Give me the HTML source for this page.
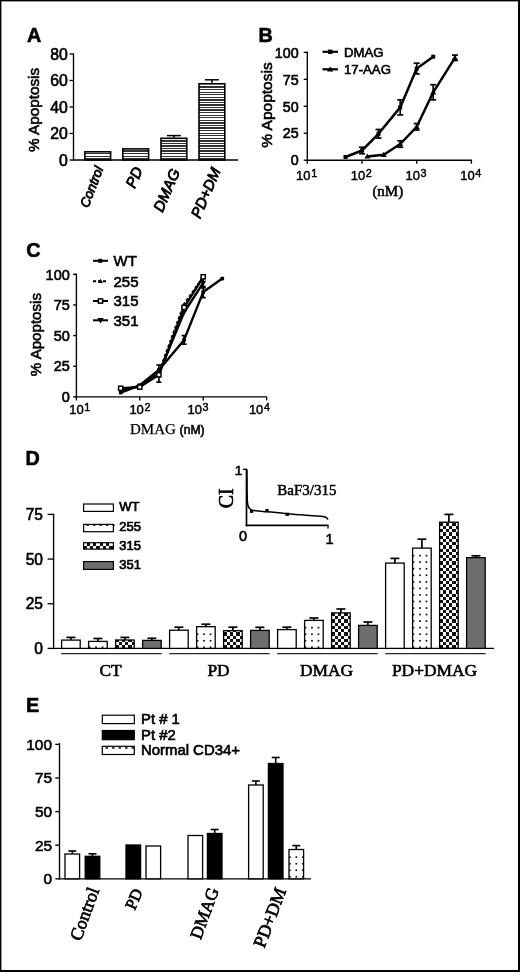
<!DOCTYPE html>
<html lang="en"><head><meta charset="utf-8"><title>Figure</title>
<style>
html,body{margin:0;padding:0;background:#fff;}
body{width:520px;height:972px;overflow:hidden;}
svg{display:block;}
.ss{font-family:"Liberation Sans",Arial,Helvetica,sans-serif;fill:#000;}
.sr{font-family:"Liberation Serif","Times New Roman",Times,serif;fill:#000;}
</style></head><body>
<svg width="520" height="972" viewBox="0 0 520 972">
<rect x="0" y="0" width="520" height="972" fill="#fff"/>

<rect x="0" y="0" width="520" height="1.4" fill="#000"/>
<rect x="0" y="0" width="1.4" height="972" fill="#000"/>
<rect x="518" y="0" width="2" height="972" fill="#000"/>
<rect x="0" y="970" width="520" height="2" fill="#000"/>
<text class="ss" x="27" y="41.6" font-size="19.8" font-weight="bold" stroke="#000" stroke-width="0.6">A</text>
<text class="ss" x="258.5" y="41.6" font-size="19.8" font-weight="bold" stroke="#000" stroke-width="0.6">B</text>
<text class="ss" x="26.3" y="256.7" font-size="19.8" font-weight="bold" stroke="#000" stroke-width="0.6">C</text>
<text class="ss" x="25.5" y="465.4" font-size="19.8" font-weight="bold" stroke="#000" stroke-width="0.6">D</text>
<text class="ss" x="26" y="712.4" font-size="19.8" font-weight="bold" stroke="#000" stroke-width="0.6">E</text>
<line x1="73.5" y1="53.4" x2="73.5" y2="160.65" stroke="#000" stroke-width="1.35"/>
<line x1="72.85" y1="160.0" x2="238" y2="160.0" stroke="#000" stroke-width="1.35"/>
<line x1="69.5" y1="160.0" x2="73.5" y2="160.0" stroke="#000" stroke-width="1.35"/>
<text class="ss" x="67.8" y="165.6" font-size="15.8" text-anchor="end" stroke="#000" stroke-width="0.6">0</text>
<line x1="69.5" y1="133.5" x2="73.5" y2="133.5" stroke="#000" stroke-width="1.35"/>
<text class="ss" x="67.8" y="139.1" font-size="15.8" text-anchor="end" stroke="#000" stroke-width="0.6">20</text>
<line x1="69.5" y1="107.0" x2="73.5" y2="107.0" stroke="#000" stroke-width="1.35"/>
<text class="ss" x="67.8" y="112.6" font-size="15.8" text-anchor="end" stroke="#000" stroke-width="0.6">40</text>
<line x1="69.5" y1="80.5" x2="73.5" y2="80.5" stroke="#000" stroke-width="1.35"/>
<text class="ss" x="67.8" y="86.1" font-size="15.8" text-anchor="end" stroke="#000" stroke-width="0.6">60</text>
<line x1="69.5" y1="54.0" x2="73.5" y2="54.0" stroke="#000" stroke-width="1.35"/>
<text class="ss" x="67.8" y="59.6" font-size="15.8" text-anchor="end" stroke="#000" stroke-width="0.6">80</text>
<text class="ss" x="38.6" y="110" font-size="15.3" text-anchor="middle" stroke="#000" stroke-width="0.6" transform="rotate(-90 38.6 110)">% Apoptosis</text>
<g shape-rendering="crispEdges" fill="#333">
<rect x="84.8" y="158.10" width="25.8" height="1.35"/>
<rect x="84.8" y="155.54" width="25.8" height="1.35"/>
<rect x="84.8" y="152.98" width="25.8" height="1.35"/>
</g>
<rect x="84.80" y="151.80" width="25.80" height="8.20" fill="none" stroke="#000" stroke-width="1.6"/>
<g shape-rendering="crispEdges" fill="#333">
<rect x="122.8" y="158.10" width="25.8" height="1.35"/>
<rect x="122.8" y="155.54" width="25.8" height="1.35"/>
<rect x="122.8" y="152.98" width="25.8" height="1.35"/>
<rect x="122.8" y="150.42" width="25.8" height="1.35"/>
</g>
<rect x="122.80" y="148.90" width="25.80" height="11.10" fill="none" stroke="#000" stroke-width="1.6"/>
<line x1="173.9" y1="135.6" x2="173.9" y2="138.3" stroke="#000" stroke-width="1.5"/>
<line x1="166.9" y1="135.6" x2="180.9" y2="135.6" stroke="#000" stroke-width="1.5"/>
<g shape-rendering="crispEdges" fill="#333">
<rect x="161.0" y="158.10" width="25.8" height="1.35"/>
<rect x="161.0" y="155.54" width="25.8" height="1.35"/>
<rect x="161.0" y="152.98" width="25.8" height="1.35"/>
<rect x="161.0" y="150.42" width="25.8" height="1.35"/>
<rect x="161.0" y="147.86" width="25.8" height="1.35"/>
<rect x="161.0" y="145.30" width="25.8" height="1.35"/>
<rect x="161.0" y="142.74" width="25.8" height="1.35"/>
<rect x="161.0" y="140.18" width="25.8" height="1.35"/>
</g>
<rect x="161.00" y="138.30" width="25.80" height="21.70" fill="none" stroke="#000" stroke-width="1.6"/>
<line x1="211.9" y1="79.8" x2="211.9" y2="83.8" stroke="#000" stroke-width="1.5"/>
<line x1="204.9" y1="79.8" x2="218.9" y2="79.8" stroke="#000" stroke-width="1.5"/>
<g shape-rendering="crispEdges" fill="#333">
<rect x="199.0" y="158.10" width="25.8" height="1.35"/>
<rect x="199.0" y="155.54" width="25.8" height="1.35"/>
<rect x="199.0" y="152.98" width="25.8" height="1.35"/>
<rect x="199.0" y="150.42" width="25.8" height="1.35"/>
<rect x="199.0" y="147.86" width="25.8" height="1.35"/>
<rect x="199.0" y="145.30" width="25.8" height="1.35"/>
<rect x="199.0" y="142.74" width="25.8" height="1.35"/>
<rect x="199.0" y="140.18" width="25.8" height="1.35"/>
<rect x="199.0" y="137.62" width="25.8" height="1.35"/>
<rect x="199.0" y="135.06" width="25.8" height="1.35"/>
<rect x="199.0" y="132.50" width="25.8" height="1.35"/>
<rect x="199.0" y="129.94" width="25.8" height="1.35"/>
<rect x="199.0" y="127.38" width="25.8" height="1.35"/>
<rect x="199.0" y="124.82" width="25.8" height="1.35"/>
<rect x="199.0" y="122.26" width="25.8" height="1.35"/>
<rect x="199.0" y="119.70" width="25.8" height="1.35"/>
<rect x="199.0" y="117.14" width="25.8" height="1.35"/>
<rect x="199.0" y="114.58" width="25.8" height="1.35"/>
<rect x="199.0" y="112.02" width="25.8" height="1.35"/>
<rect x="199.0" y="109.46" width="25.8" height="1.35"/>
<rect x="199.0" y="106.90" width="25.8" height="1.35"/>
<rect x="199.0" y="104.34" width="25.8" height="1.35"/>
<rect x="199.0" y="101.78" width="25.8" height="1.35"/>
<rect x="199.0" y="99.22" width="25.8" height="1.35"/>
<rect x="199.0" y="96.66" width="25.8" height="1.35"/>
<rect x="199.0" y="94.10" width="25.8" height="1.35"/>
<rect x="199.0" y="91.54" width="25.8" height="1.35"/>
<rect x="199.0" y="88.98" width="25.8" height="1.35"/>
<rect x="199.0" y="86.42" width="25.8" height="1.35"/>
</g>
<rect x="199.00" y="83.80" width="25.80" height="76.20" fill="none" stroke="#000" stroke-width="1.6"/>
<text class="ss" x="103.5" y="168.5" font-size="13.3" text-anchor="end" font-style="italic" stroke="#000" stroke-width="0.85" transform="rotate(-69 103.5 168.5)">Control</text>
<text class="ss" x="143" y="169.8" font-size="15" text-anchor="end" font-style="italic" stroke="#000" stroke-width="0.85" transform="rotate(-67 143 169.8)">PD</text>
<text class="ss" x="180.2" y="171.5" font-size="15" text-anchor="end" font-style="italic" stroke="#000" stroke-width="0.85" transform="rotate(-67 180.2 171.5)">DMAG</text>
<text class="ss" x="220.8" y="170.5" font-size="15" text-anchor="end" font-style="italic" stroke="#000" stroke-width="0.85" transform="rotate(-67 220.8 170.5)">PD+DM</text>
<line x1="307.3" y1="51.4" x2="307.3" y2="160.85" stroke="#000" stroke-width="1.35"/>
<line x1="306.65000000000003" y1="160.2" x2="472" y2="160.2" stroke="#000" stroke-width="1.35"/>
<line x1="303.7" y1="160.2" x2="307.3" y2="160.2" stroke="#000" stroke-width="1.35"/>
<text class="ss" x="298.6" y="165.39999999999998" font-size="14.3" text-anchor="end" stroke="#000" stroke-width="0.6">0</text>
<line x1="303.7" y1="133.25" x2="307.3" y2="133.25" stroke="#000" stroke-width="1.35"/>
<text class="ss" x="298.6" y="138.45" font-size="14.3" text-anchor="end" stroke="#000" stroke-width="0.6">25</text>
<line x1="303.7" y1="106.29999999999998" x2="307.3" y2="106.29999999999998" stroke="#000" stroke-width="1.35"/>
<text class="ss" x="298.6" y="111.49999999999999" font-size="14.3" text-anchor="end" stroke="#000" stroke-width="0.6">50</text>
<line x1="303.7" y1="79.34999999999998" x2="307.3" y2="79.34999999999998" stroke="#000" stroke-width="1.35"/>
<text class="ss" x="298.6" y="84.54999999999998" font-size="14.3" text-anchor="end" stroke="#000" stroke-width="0.6">75</text>
<line x1="303.7" y1="52.39999999999998" x2="307.3" y2="52.39999999999998" stroke="#000" stroke-width="1.35"/>
<text class="ss" x="298.6" y="57.59999999999998" font-size="14.3" text-anchor="end" stroke="#000" stroke-width="0.6">100</text>
<text class="ss" x="271.7" y="105" font-size="15.5" text-anchor="middle" stroke="#000" stroke-width="0.6" transform="rotate(-90 271.7 105)">% Apoptosis</text>
<line x1="307.3" y1="160.2" x2="307.3" y2="163.7" stroke="#000" stroke-width="1.35"/>
<text class="ss" x="296.1" y="179.8" font-size="13" stroke="#000" stroke-width="0.45">10<tspan font-size="10.8" dy="-2.6" dx="0.6">1</tspan></text>
<line x1="362.0" y1="160.2" x2="362.0" y2="163.7" stroke="#000" stroke-width="1.35"/>
<text class="ss" x="350.8" y="179.8" font-size="13" stroke="#000" stroke-width="0.45">10<tspan font-size="10.8" dy="-2.6" dx="0.6">2</tspan></text>
<line x1="416.70000000000005" y1="160.2" x2="416.70000000000005" y2="163.7" stroke="#000" stroke-width="1.35"/>
<text class="ss" x="405.5" y="179.8" font-size="13" stroke="#000" stroke-width="0.45">10<tspan font-size="10.8" dy="-2.6" dx="0.6">3</tspan></text>
<line x1="471.40000000000003" y1="160.2" x2="471.40000000000003" y2="163.7" stroke="#000" stroke-width="1.35"/>
<text class="ss" x="460.2" y="179.8" font-size="13" stroke="#000" stroke-width="0.45">10<tspan font-size="10.8" dy="-2.6" dx="0.6">4</tspan></text>
<text class="sr" x="387.8" y="196" font-size="15" text-anchor="middle" stroke="#000" stroke-width="0.55">(nM)</text>
<polyline points="345.5,157.0 362.0,150.5 378.5,133.8 400.2,107.4 416.7,68.6 433.2,56.7" fill="none" stroke="#000" stroke-width="2.5" stroke-linejoin="round"/>
<polyline points="367.3,156.4 383.8,154.8 400.2,144.0 416.7,126.8 433.2,92.3 454.9,57.8" fill="none" stroke="#000" stroke-width="2.5" stroke-linejoin="round"/>
<rect x="343.5" y="155.0" width="4" height="4" fill="#000"/>
<line x1="362.0" y1="147.26399999999998" x2="362.0" y2="153.732" stroke="#000" stroke-width="1.7"/>
<line x1="359.0" y1="147.26399999999998" x2="365.0" y2="147.26399999999998" stroke="#000" stroke-width="1.7"/>
<line x1="359.0" y1="153.732" x2="365.0" y2="153.732" stroke="#000" stroke-width="1.7"/>
<rect x="360.0" y="148.5" width="4" height="4" fill="#000"/>
<line x1="378.46634076281975" y1="129.47699999999998" x2="378.46634076281975" y2="138.101" stroke="#000" stroke-width="1.7"/>
<line x1="375.46634076281975" y1="129.47699999999998" x2="381.46634076281975" y2="129.47699999999998" stroke="#000" stroke-width="1.7"/>
<line x1="375.46634076281975" y1="138.101" x2="381.46634076281975" y2="138.101" stroke="#000" stroke-width="1.7"/>
<rect x="376.5" y="131.8" width="4" height="4" fill="#000"/>
<line x1="400.23365923718023" y1="99.832" x2="400.23365923718023" y2="114.92399999999998" stroke="#000" stroke-width="1.7"/>
<line x1="397.23365923718023" y1="99.832" x2="403.23365923718023" y2="99.832" stroke="#000" stroke-width="1.7"/>
<line x1="397.23365923718023" y1="114.92399999999998" x2="403.23365923718023" y2="114.92399999999998" stroke="#000" stroke-width="1.7"/>
<rect x="398.2" y="105.4" width="4" height="4" fill="#000"/>
<line x1="416.70000000000005" y1="63.17999999999998" x2="416.70000000000005" y2="73.95999999999998" stroke="#000" stroke-width="1.7"/>
<line x1="413.70000000000005" y1="63.17999999999998" x2="419.70000000000005" y2="63.17999999999998" stroke="#000" stroke-width="1.7"/>
<line x1="413.70000000000005" y1="73.95999999999998" x2="419.70000000000005" y2="73.95999999999998" stroke="#000" stroke-width="1.7"/>
<rect x="414.7" y="66.6" width="4" height="4" fill="#000"/>
<rect x="431.2" y="54.7" width="4" height="4" fill="#000"/>
<polygon points="364.3,158.6 370.3,158.6 367.3,153.4" fill="#000"/>
<polygon points="380.8,157.0 386.8,157.0 383.8,151.8" fill="#000"/>
<line x1="400.23365923718023" y1="140.796" x2="400.23365923718023" y2="147.26399999999998" stroke="#000" stroke-width="1.7"/>
<line x1="397.23365923718023" y1="140.796" x2="403.23365923718023" y2="140.796" stroke="#000" stroke-width="1.7"/>
<line x1="397.23365923718023" y1="147.26399999999998" x2="403.23365923718023" y2="147.26399999999998" stroke="#000" stroke-width="1.7"/>
<polygon points="397.2,146.2 403.2,146.2 400.2,141.0" fill="#000"/>
<line x1="416.70000000000005" y1="123.54799999999999" x2="416.70000000000005" y2="130.016" stroke="#000" stroke-width="1.7"/>
<line x1="413.70000000000005" y1="123.54799999999999" x2="419.70000000000005" y2="123.54799999999999" stroke="#000" stroke-width="1.7"/>
<line x1="413.70000000000005" y1="130.016" x2="419.70000000000005" y2="130.016" stroke="#000" stroke-width="1.7"/>
<polygon points="413.7,129.0 419.7,129.0 416.7,123.8" fill="#000"/>
<line x1="433.1663407628198" y1="84.73999999999998" x2="433.1663407628198" y2="99.832" stroke="#000" stroke-width="1.7"/>
<line x1="430.1663407628198" y1="84.73999999999998" x2="436.1663407628198" y2="84.73999999999998" stroke="#000" stroke-width="1.7"/>
<line x1="430.1663407628198" y1="99.832" x2="436.1663407628198" y2="99.832" stroke="#000" stroke-width="1.7"/>
<polygon points="430.2,94.5 436.2,94.5 433.2,89.3" fill="#000"/>
<line x1="454.9336592371802" y1="55.094999999999985" x2="454.9336592371802" y2="60.484999999999985" stroke="#000" stroke-width="1.7"/>
<line x1="451.9336592371802" y1="55.094999999999985" x2="457.9336592371802" y2="55.094999999999985" stroke="#000" stroke-width="1.7"/>
<line x1="451.9336592371802" y1="60.484999999999985" x2="457.9336592371802" y2="60.484999999999985" stroke="#000" stroke-width="1.7"/>
<polygon points="451.9,60.0 457.9,60.0 454.9,54.8" fill="#000"/>
<line x1="322.5" y1="51.8" x2="338" y2="51.8" stroke="#000" stroke-width="2.2"/>
<rect x="328" y="49.6" width="4.4" height="4.4" fill="#000"/>
<text class="ss" x="344" y="56.9" font-size="13.2" stroke="#000" stroke-width="0.6">DMAG</text>
<line x1="322.5" y1="69.3" x2="338" y2="69.3" stroke="#000" stroke-width="2.2"/>
<polygon points="327,71.6 333.4,71.6 330.2,66.4" fill="#000"/>
<text class="ss" x="344" y="74.2" font-size="13.2" stroke="#000" stroke-width="0.6">17-AAG</text>
<line x1="76.4" y1="273.6" x2="76.4" y2="397.54999999999995" stroke="#000" stroke-width="1.35"/>
<line x1="75.75" y1="396.9" x2="267" y2="396.9" stroke="#000" stroke-width="1.35"/>
<line x1="73.10000000000001" y1="396.9" x2="76.4" y2="396.9" stroke="#000" stroke-width="1.35"/>
<text class="ss" x="69.8" y="402.09999999999997" font-size="14.5" text-anchor="end" stroke="#000" stroke-width="0.6">0</text>
<line x1="73.10000000000001" y1="366.25" x2="76.4" y2="366.25" stroke="#000" stroke-width="1.35"/>
<text class="ss" x="69.8" y="371.45" font-size="14.5" text-anchor="end" stroke="#000" stroke-width="0.6">25</text>
<line x1="73.10000000000001" y1="335.59999999999997" x2="76.4" y2="335.59999999999997" stroke="#000" stroke-width="1.35"/>
<text class="ss" x="69.8" y="340.79999999999995" font-size="14.5" text-anchor="end" stroke="#000" stroke-width="0.6">50</text>
<line x1="73.10000000000001" y1="304.95" x2="76.4" y2="304.95" stroke="#000" stroke-width="1.35"/>
<text class="ss" x="69.8" y="310.15" font-size="14.5" text-anchor="end" stroke="#000" stroke-width="0.6">75</text>
<line x1="73.10000000000001" y1="274.29999999999995" x2="76.4" y2="274.29999999999995" stroke="#000" stroke-width="1.35"/>
<text class="ss" x="69.8" y="279.49999999999994" font-size="14.5" text-anchor="end" stroke="#000" stroke-width="0.6">100</text>
<text class="ss" x="40.8" y="334.6" font-size="15.1" text-anchor="middle" stroke="#000" stroke-width="0.6" transform="rotate(-90 40.8 334.6)">% Apoptosis</text>
<line x1="76.4" y1="396.9" x2="76.4" y2="400.4" stroke="#000" stroke-width="1.35"/>
<text class="ss" x="69.3" y="414" font-size="13" stroke="#000" stroke-width="0.45">10<tspan font-size="10.8" dy="-2.6" dx="0.6">1</tspan></text>
<line x1="139.8" y1="396.9" x2="139.8" y2="400.4" stroke="#000" stroke-width="1.35"/>
<text class="ss" x="129.4" y="414" font-size="13" stroke="#000" stroke-width="0.45">10<tspan font-size="10.8" dy="-2.6" dx="0.6">2</tspan></text>
<line x1="203.2" y1="396.9" x2="203.2" y2="400.4" stroke="#000" stroke-width="1.35"/>
<text class="ss" x="187.5" y="414" font-size="13" stroke="#000" stroke-width="0.45">10<tspan font-size="10.8" dy="-2.6" dx="0.6">3</tspan></text>
<line x1="266.6" y1="396.9" x2="266.6" y2="400.4" stroke="#000" stroke-width="1.35"/>
<text class="ss" x="248.9" y="414" font-size="13" stroke="#000" stroke-width="0.45">10<tspan font-size="10.8" dy="-2.6" dx="0.6">4</tspan></text>
<text class="sr" x="130" y="433.8" font-size="15" stroke="#000" stroke-width="0.25">DMAG <tspan class="ss" font-size="12.2" stroke-width="0.6">(nM)</tspan></text>
<polyline points="120.7,389.5 139.8,386.5 158.9,373.0 184.1,304.3 203.2,277.4" fill="none" stroke="#000" stroke-width="2.4" stroke-linejoin="round" stroke-dasharray="3 2"/>
<polyline points="120.7,388.3 139.8,387.1 158.9,374.8 184.1,307.4 203.2,276.8" fill="none" stroke="#000" stroke-width="2.4" stroke-linejoin="round"/>
<polyline points="120.7,390.8 139.8,385.9 158.9,373.6 184.1,312.3 203.2,282.9" fill="none" stroke="#000" stroke-width="2.4" stroke-linejoin="round"/>
<polyline points="120.7,392.6 139.8,385.3 158.9,369.9 184.1,339.9 203.2,292.1 222.3,278.6" fill="none" stroke="#000" stroke-width="2.4" stroke-linejoin="round"/>
<rect x="118.9" y="390.8" width="3.6" height="3.6" fill="#000"/>
<rect x="138.0" y="383.5" width="3.6" height="3.6" fill="#000"/>
<rect x="157.1" y="368.1" width="3.6" height="3.6" fill="#000"/>
<line x1="184.1146982749036" y1="335.59999999999997" x2="184.1146982749036" y2="344.18199999999996" stroke="#000" stroke-width="1.7"/>
<line x1="181.6146982749036" y1="335.59999999999997" x2="186.6146982749036" y2="335.59999999999997" stroke="#000" stroke-width="1.7"/>
<line x1="181.6146982749036" y1="344.18199999999996" x2="186.6146982749036" y2="344.18199999999996" stroke="#000" stroke-width="1.7"/>
<rect x="182.3" y="338.1" width="3.6" height="3.6" fill="#000"/>
<line x1="203.2" y1="286.55999999999995" x2="203.2" y2="297.594" stroke="#000" stroke-width="1.7"/>
<line x1="200.7" y1="286.55999999999995" x2="205.7" y2="286.55999999999995" stroke="#000" stroke-width="1.7"/>
<line x1="200.7" y1="297.594" x2="205.7" y2="297.594" stroke="#000" stroke-width="1.7"/>
<rect x="201.4" y="290.3" width="3.6" height="3.6" fill="#000"/>
<rect x="220.5" y="276.8" width="3.6" height="3.6" fill="#000"/>
<polygon points="117.7,388.6 123.7,388.6 120.7,393.8" fill="#000"/>
<polygon points="136.8,383.7 142.8,383.7 139.8,388.9" fill="#000"/>
<line x1="158.8853017250964" y1="365.024" x2="158.8853017250964" y2="382.188" stroke="#000" stroke-width="1.7"/>
<line x1="156.3853017250964" y1="365.024" x2="161.3853017250964" y2="365.024" stroke="#000" stroke-width="1.7"/>
<line x1="156.3853017250964" y1="382.188" x2="161.3853017250964" y2="382.188" stroke="#000" stroke-width="1.7"/>
<polygon points="155.9,371.4 161.9,371.4 158.9,376.6" fill="#000"/>
<polygon points="181.1,310.1 187.1,310.1 184.1,315.3" fill="#000"/>
<line x1="203.2" y1="277.97799999999995" x2="203.2" y2="287.78599999999994" stroke="#000" stroke-width="1.7"/>
<line x1="200.7" y1="277.97799999999995" x2="205.7" y2="277.97799999999995" stroke="#000" stroke-width="1.7"/>
<line x1="200.7" y1="287.78599999999994" x2="205.7" y2="287.78599999999994" stroke="#000" stroke-width="1.7"/>
<polygon points="200.2,280.7 206.2,280.7 203.2,285.9" fill="#000"/>
<rect x="118.6" y="386.2" width="4.2" height="4.2" fill="#fff" stroke="#000" stroke-width="1.5"/>
<rect x="137.7" y="385.0" width="4.2" height="4.2" fill="#fff" stroke="#000" stroke-width="1.5"/>
<rect x="156.8" y="372.7" width="4.2" height="4.2" fill="#fff" stroke="#000" stroke-width="1.5"/>
<rect x="182.0" y="305.3" width="4.2" height="4.2" fill="#fff" stroke="#000" stroke-width="1.5"/>
<rect x="201.1" y="274.7" width="4.2" height="4.2" fill="#fff" stroke="#000" stroke-width="1.5"/>
<line x1="93" y1="260.8" x2="108" y2="260.8" stroke="#000" stroke-width="2"/>
<rect x="98.3" y="258.8" width="4" height="4" fill="#000"/>
<line x1="93" y1="281.2" x2="108" y2="281.2" stroke="#000" stroke-width="2" stroke-dasharray="3 2"/>
<polygon points="98,283.0 103,283.0 100.5,278.8" fill="#000"/>
<line x1="93" y1="301" x2="108" y2="301" stroke="#000" stroke-width="2"/>
<rect x="98.4" y="298.9" width="4.2" height="4.2" fill="#fff" stroke="#000" stroke-width="1.5"/>
<line x1="93" y1="320.3" x2="108" y2="320.3" stroke="#000" stroke-width="2"/>
<polygon points="97.3,318.1 103.7,318.1 100.5,323.5" fill="#000"/>
<text class="ss" x="113.5" y="266.2" font-size="15" stroke="#000" stroke-width="0.6">WT</text>
<text class="ss" x="113.5" y="286.59999999999997" font-size="15" stroke="#000" stroke-width="0.6">255</text>
<text class="ss" x="113.5" y="306.4" font-size="15" stroke="#000" stroke-width="0.6">315</text>
<text class="ss" x="113.5" y="325.7" font-size="15" stroke="#000" stroke-width="0.6">351</text>
<line x1="53.6" y1="513.8" x2="53.6" y2="649.05" stroke="#000" stroke-width="1.35"/>
<line x1="52.95" y1="648.4" x2="494" y2="648.4" stroke="#000" stroke-width="1.35"/>
<line x1="47.6" y1="648.4" x2="53.6" y2="648.4" stroke="#000" stroke-width="1.35"/>
<text class="ss" x="43" y="654.0" font-size="15.6" text-anchor="end" stroke="#000" stroke-width="0.6">0</text>
<line x1="47.6" y1="603.73" x2="53.6" y2="603.73" stroke="#000" stroke-width="1.35"/>
<text class="ss" x="43" y="609.33" font-size="15.6" text-anchor="end" stroke="#000" stroke-width="0.6">25</text>
<line x1="47.6" y1="559.06" x2="53.6" y2="559.06" stroke="#000" stroke-width="1.35"/>
<text class="ss" x="43" y="564.66" font-size="15.6" text-anchor="end" stroke="#000" stroke-width="0.6">50</text>
<line x1="47.6" y1="514.39" x2="53.6" y2="514.39" stroke="#000" stroke-width="1.35"/>
<text class="ss" x="43" y="519.99" font-size="15.6" text-anchor="end" stroke="#000" stroke-width="0.6">75</text>
<line x1="70.9" y1="637.4000000000001" x2="70.9" y2="640.1" stroke="#000" stroke-width="1.7"/>
<line x1="66.4" y1="637.4000000000001" x2="75.4" y2="637.4000000000001" stroke="#000" stroke-width="1.7"/>
<rect x="61.60" y="640.10" width="18.60" height="8.30" fill="#fff" stroke="#000" stroke-width="1.3"/>
<line x1="97.89999999999999" y1="638.5" x2="97.89999999999999" y2="641.4000000000001" stroke="#000" stroke-width="1.7"/>
<line x1="93.39999999999999" y1="638.5" x2="102.39999999999999" y2="638.5" stroke="#000" stroke-width="1.7"/>
<rect x="88.60" y="641.40" width="18.60" height="7.00" fill="#fff" stroke="#000" stroke-width="1.3"/>
<rect x="88.7" y="646.4" width="1.7" height="1.7" fill="#111"/>
<rect x="95.2" y="646.4" width="1.7" height="1.7" fill="#111"/>
<rect x="101.7" y="646.4" width="1.7" height="1.7" fill="#111"/>
<line x1="124.89999999999999" y1="637.4000000000001" x2="124.89999999999999" y2="640.0" stroke="#000" stroke-width="1.7"/>
<line x1="120.39999999999999" y1="637.4000000000001" x2="129.39999999999998" y2="637.4000000000001" stroke="#000" stroke-width="1.7"/>
<g shape-rendering="crispEdges" fill="#111">
<rect x="115.60" y="645.18" width="3.22" height="3.22"/>
<rect x="122.04" y="645.18" width="3.22" height="3.22"/>
<rect x="128.48" y="645.18" width="3.22" height="3.22"/>
<rect x="118.82" y="641.96" width="3.22" height="3.22"/>
<rect x="125.26" y="641.96" width="3.22" height="3.22"/>
<rect x="131.70" y="641.96" width="2.50" height="3.22"/>
<rect x="115.60" y="640.00" width="3.22" height="1.96"/>
<rect x="122.04" y="640.00" width="3.22" height="1.96"/>
<rect x="128.48" y="640.00" width="3.22" height="1.96"/>
</g>
<rect x="115.60" y="640.00" width="18.60" height="8.40" fill="none" stroke="#000" stroke-width="1.3"/>
<line x1="151.9" y1="638.3000000000001" x2="151.9" y2="640.4000000000001" stroke="#000" stroke-width="1.7"/>
<line x1="147.4" y1="638.3000000000001" x2="156.4" y2="638.3000000000001" stroke="#000" stroke-width="1.7"/>
<rect x="142.60" y="640.40" width="18.60" height="8.00" fill="#6e6e6e" stroke="#000" stroke-width="1.3"/>
<line x1="178.9" y1="627.2" x2="178.9" y2="630.2" stroke="#000" stroke-width="1.7"/>
<line x1="174.4" y1="627.2" x2="183.4" y2="627.2" stroke="#000" stroke-width="1.7"/>
<rect x="169.60" y="630.20" width="18.60" height="18.20" fill="#fff" stroke="#000" stroke-width="1.3"/>
<line x1="205.9" y1="624.2" x2="205.9" y2="626.7" stroke="#000" stroke-width="1.7"/>
<line x1="201.4" y1="624.2" x2="210.4" y2="624.2" stroke="#000" stroke-width="1.7"/>
<rect x="196.60" y="626.70" width="18.60" height="21.70" fill="#fff" stroke="#000" stroke-width="1.3"/>
<rect x="196.7" y="646.4" width="1.7" height="1.7" fill="#111"/>
<rect x="203.2" y="646.4" width="1.7" height="1.7" fill="#111"/>
<rect x="209.7" y="646.4" width="1.7" height="1.7" fill="#111"/>
<rect x="196.7" y="639.9" width="1.7" height="1.7" fill="#111"/>
<rect x="203.2" y="639.9" width="1.7" height="1.7" fill="#111"/>
<rect x="209.7" y="639.9" width="1.7" height="1.7" fill="#111"/>
<rect x="196.7" y="633.4" width="1.7" height="1.7" fill="#111"/>
<rect x="203.2" y="633.4" width="1.7" height="1.7" fill="#111"/>
<rect x="209.7" y="633.4" width="1.7" height="1.7" fill="#111"/>
<line x1="232.9" y1="627.2" x2="232.9" y2="630.7" stroke="#000" stroke-width="1.7"/>
<line x1="228.4" y1="627.2" x2="237.4" y2="627.2" stroke="#000" stroke-width="1.7"/>
<g shape-rendering="crispEdges" fill="#111">
<rect x="223.60" y="645.18" width="3.22" height="3.22"/>
<rect x="230.04" y="645.18" width="3.22" height="3.22"/>
<rect x="236.48" y="645.18" width="3.22" height="3.22"/>
<rect x="226.82" y="641.96" width="3.22" height="3.22"/>
<rect x="233.26" y="641.96" width="3.22" height="3.22"/>
<rect x="239.70" y="641.96" width="2.50" height="3.22"/>
<rect x="223.60" y="638.74" width="3.22" height="3.22"/>
<rect x="230.04" y="638.74" width="3.22" height="3.22"/>
<rect x="236.48" y="638.74" width="3.22" height="3.22"/>
<rect x="226.82" y="635.52" width="3.22" height="3.22"/>
<rect x="233.26" y="635.52" width="3.22" height="3.22"/>
<rect x="239.70" y="635.52" width="2.50" height="3.22"/>
<rect x="223.60" y="632.30" width="3.22" height="3.22"/>
<rect x="230.04" y="632.30" width="3.22" height="3.22"/>
<rect x="236.48" y="632.30" width="3.22" height="3.22"/>
<rect x="226.82" y="630.70" width="3.22" height="1.60"/>
<rect x="233.26" y="630.70" width="3.22" height="1.60"/>
<rect x="239.70" y="630.70" width="2.50" height="1.60"/>
</g>
<rect x="223.60" y="630.70" width="18.60" height="17.70" fill="none" stroke="#000" stroke-width="1.3"/>
<line x1="259.9" y1="627.3000000000001" x2="259.9" y2="630.4000000000001" stroke="#000" stroke-width="1.7"/>
<line x1="255.39999999999998" y1="627.3000000000001" x2="264.4" y2="627.3000000000001" stroke="#000" stroke-width="1.7"/>
<rect x="250.60" y="630.40" width="18.60" height="18.00" fill="#6e6e6e" stroke="#000" stroke-width="1.3"/>
<line x1="286.90000000000003" y1="627.1999999999999" x2="286.90000000000003" y2="629.6" stroke="#000" stroke-width="1.7"/>
<line x1="282.40000000000003" y1="627.1999999999999" x2="291.40000000000003" y2="627.1999999999999" stroke="#000" stroke-width="1.7"/>
<rect x="277.60" y="629.60" width="18.60" height="18.80" fill="#fff" stroke="#000" stroke-width="1.3"/>
<line x1="313.90000000000003" y1="618.0" x2="313.90000000000003" y2="620.4" stroke="#000" stroke-width="1.7"/>
<line x1="309.40000000000003" y1="618.0" x2="318.40000000000003" y2="618.0" stroke="#000" stroke-width="1.7"/>
<rect x="304.60" y="620.40" width="18.60" height="28.00" fill="#fff" stroke="#000" stroke-width="1.3"/>
<rect x="304.6" y="646.4" width="1.7" height="1.7" fill="#111"/>
<rect x="311.1" y="646.4" width="1.7" height="1.7" fill="#111"/>
<rect x="317.6" y="646.4" width="1.7" height="1.7" fill="#111"/>
<rect x="304.6" y="639.9" width="1.7" height="1.7" fill="#111"/>
<rect x="311.1" y="639.9" width="1.7" height="1.7" fill="#111"/>
<rect x="317.6" y="639.9" width="1.7" height="1.7" fill="#111"/>
<rect x="304.6" y="633.4" width="1.7" height="1.7" fill="#111"/>
<rect x="311.1" y="633.4" width="1.7" height="1.7" fill="#111"/>
<rect x="317.6" y="633.4" width="1.7" height="1.7" fill="#111"/>
<rect x="304.6" y="626.8" width="1.7" height="1.7" fill="#111"/>
<rect x="311.1" y="626.8" width="1.7" height="1.7" fill="#111"/>
<rect x="317.6" y="626.8" width="1.7" height="1.7" fill="#111"/>
<line x1="340.90000000000003" y1="609.0" x2="340.90000000000003" y2="612.9" stroke="#000" stroke-width="1.7"/>
<line x1="336.40000000000003" y1="609.0" x2="345.40000000000003" y2="609.0" stroke="#000" stroke-width="1.7"/>
<g shape-rendering="crispEdges" fill="#111">
<rect x="331.60" y="645.18" width="3.22" height="3.22"/>
<rect x="338.04" y="645.18" width="3.22" height="3.22"/>
<rect x="344.48" y="645.18" width="3.22" height="3.22"/>
<rect x="334.82" y="641.96" width="3.22" height="3.22"/>
<rect x="341.26" y="641.96" width="3.22" height="3.22"/>
<rect x="347.70" y="641.96" width="2.50" height="3.22"/>
<rect x="331.60" y="638.74" width="3.22" height="3.22"/>
<rect x="338.04" y="638.74" width="3.22" height="3.22"/>
<rect x="344.48" y="638.74" width="3.22" height="3.22"/>
<rect x="334.82" y="635.52" width="3.22" height="3.22"/>
<rect x="341.26" y="635.52" width="3.22" height="3.22"/>
<rect x="347.70" y="635.52" width="2.50" height="3.22"/>
<rect x="331.60" y="632.30" width="3.22" height="3.22"/>
<rect x="338.04" y="632.30" width="3.22" height="3.22"/>
<rect x="344.48" y="632.30" width="3.22" height="3.22"/>
<rect x="334.82" y="629.08" width="3.22" height="3.22"/>
<rect x="341.26" y="629.08" width="3.22" height="3.22"/>
<rect x="347.70" y="629.08" width="2.50" height="3.22"/>
<rect x="331.60" y="625.86" width="3.22" height="3.22"/>
<rect x="338.04" y="625.86" width="3.22" height="3.22"/>
<rect x="344.48" y="625.86" width="3.22" height="3.22"/>
<rect x="334.82" y="622.64" width="3.22" height="3.22"/>
<rect x="341.26" y="622.64" width="3.22" height="3.22"/>
<rect x="347.70" y="622.64" width="2.50" height="3.22"/>
<rect x="331.60" y="619.42" width="3.22" height="3.22"/>
<rect x="338.04" y="619.42" width="3.22" height="3.22"/>
<rect x="344.48" y="619.42" width="3.22" height="3.22"/>
<rect x="334.82" y="616.20" width="3.22" height="3.22"/>
<rect x="341.26" y="616.20" width="3.22" height="3.22"/>
<rect x="347.70" y="616.20" width="2.50" height="3.22"/>
<rect x="331.60" y="612.98" width="3.22" height="3.22"/>
<rect x="338.04" y="612.98" width="3.22" height="3.22"/>
<rect x="344.48" y="612.98" width="3.22" height="3.22"/>
<rect x="334.82" y="612.90" width="3.22" height="0.08"/>
<rect x="341.26" y="612.90" width="3.22" height="0.08"/>
<rect x="347.70" y="612.90" width="2.50" height="0.08"/>
</g>
<rect x="331.60" y="612.90" width="18.60" height="35.50" fill="none" stroke="#000" stroke-width="1.3"/>
<line x1="367.90000000000003" y1="622.0" x2="367.90000000000003" y2="625.4" stroke="#000" stroke-width="1.7"/>
<line x1="363.40000000000003" y1="622.0" x2="372.40000000000003" y2="622.0" stroke="#000" stroke-width="1.7"/>
<rect x="358.60" y="625.40" width="18.60" height="23.00" fill="#6e6e6e" stroke="#000" stroke-width="1.3"/>
<line x1="394.90000000000003" y1="558.4" x2="394.90000000000003" y2="563.1" stroke="#000" stroke-width="1.7"/>
<line x1="390.40000000000003" y1="558.4" x2="399.40000000000003" y2="558.4" stroke="#000" stroke-width="1.7"/>
<rect x="385.60" y="563.10" width="18.60" height="85.30" fill="#fff" stroke="#000" stroke-width="1.3"/>
<line x1="421.90000000000003" y1="539.1999999999999" x2="421.90000000000003" y2="548.1" stroke="#000" stroke-width="1.7"/>
<line x1="417.40000000000003" y1="539.1999999999999" x2="426.40000000000003" y2="539.1999999999999" stroke="#000" stroke-width="1.7"/>
<rect x="412.60" y="548.10" width="18.60" height="100.30" fill="#fff" stroke="#000" stroke-width="1.3"/>
<rect x="412.6" y="646.4" width="1.7" height="1.7" fill="#111"/>
<rect x="419.1" y="646.4" width="1.7" height="1.7" fill="#111"/>
<rect x="425.6" y="646.4" width="1.7" height="1.7" fill="#111"/>
<rect x="412.6" y="639.9" width="1.7" height="1.7" fill="#111"/>
<rect x="419.1" y="639.9" width="1.7" height="1.7" fill="#111"/>
<rect x="425.6" y="639.9" width="1.7" height="1.7" fill="#111"/>
<rect x="412.6" y="633.4" width="1.7" height="1.7" fill="#111"/>
<rect x="419.1" y="633.4" width="1.7" height="1.7" fill="#111"/>
<rect x="425.6" y="633.4" width="1.7" height="1.7" fill="#111"/>
<rect x="412.6" y="626.8" width="1.7" height="1.7" fill="#111"/>
<rect x="419.1" y="626.8" width="1.7" height="1.7" fill="#111"/>
<rect x="425.6" y="626.8" width="1.7" height="1.7" fill="#111"/>
<rect x="412.6" y="620.3" width="1.7" height="1.7" fill="#111"/>
<rect x="419.1" y="620.3" width="1.7" height="1.7" fill="#111"/>
<rect x="425.6" y="620.3" width="1.7" height="1.7" fill="#111"/>
<rect x="412.6" y="613.7" width="1.7" height="1.7" fill="#111"/>
<rect x="419.1" y="613.7" width="1.7" height="1.7" fill="#111"/>
<rect x="425.6" y="613.7" width="1.7" height="1.7" fill="#111"/>
<rect x="412.6" y="607.2" width="1.7" height="1.7" fill="#111"/>
<rect x="419.1" y="607.2" width="1.7" height="1.7" fill="#111"/>
<rect x="425.6" y="607.2" width="1.7" height="1.7" fill="#111"/>
<rect x="412.6" y="600.6" width="1.7" height="1.7" fill="#111"/>
<rect x="419.1" y="600.6" width="1.7" height="1.7" fill="#111"/>
<rect x="425.6" y="600.6" width="1.7" height="1.7" fill="#111"/>
<rect x="412.6" y="594.1" width="1.7" height="1.7" fill="#111"/>
<rect x="419.1" y="594.1" width="1.7" height="1.7" fill="#111"/>
<rect x="425.6" y="594.1" width="1.7" height="1.7" fill="#111"/>
<rect x="412.6" y="587.5" width="1.7" height="1.7" fill="#111"/>
<rect x="419.1" y="587.5" width="1.7" height="1.7" fill="#111"/>
<rect x="425.6" y="587.5" width="1.7" height="1.7" fill="#111"/>
<rect x="412.6" y="581.0" width="1.7" height="1.7" fill="#111"/>
<rect x="419.1" y="581.0" width="1.7" height="1.7" fill="#111"/>
<rect x="425.6" y="581.0" width="1.7" height="1.7" fill="#111"/>
<rect x="412.6" y="574.4" width="1.7" height="1.7" fill="#111"/>
<rect x="419.1" y="574.4" width="1.7" height="1.7" fill="#111"/>
<rect x="425.6" y="574.4" width="1.7" height="1.7" fill="#111"/>
<rect x="412.6" y="567.9" width="1.7" height="1.7" fill="#111"/>
<rect x="419.1" y="567.9" width="1.7" height="1.7" fill="#111"/>
<rect x="425.6" y="567.9" width="1.7" height="1.7" fill="#111"/>
<rect x="412.6" y="561.3" width="1.7" height="1.7" fill="#111"/>
<rect x="419.1" y="561.3" width="1.7" height="1.7" fill="#111"/>
<rect x="425.6" y="561.3" width="1.7" height="1.7" fill="#111"/>
<rect x="412.6" y="554.8" width="1.7" height="1.7" fill="#111"/>
<rect x="419.1" y="554.8" width="1.7" height="1.7" fill="#111"/>
<rect x="425.6" y="554.8" width="1.7" height="1.7" fill="#111"/>
<line x1="448.90000000000003" y1="514.4" x2="448.90000000000003" y2="522.1999999999999" stroke="#000" stroke-width="1.7"/>
<line x1="444.40000000000003" y1="514.4" x2="453.40000000000003" y2="514.4" stroke="#000" stroke-width="1.7"/>
<g shape-rendering="crispEdges" fill="#111">
<rect x="439.60" y="645.18" width="3.22" height="3.22"/>
<rect x="446.04" y="645.18" width="3.22" height="3.22"/>
<rect x="452.48" y="645.18" width="3.22" height="3.22"/>
<rect x="442.82" y="641.96" width="3.22" height="3.22"/>
<rect x="449.26" y="641.96" width="3.22" height="3.22"/>
<rect x="455.70" y="641.96" width="2.50" height="3.22"/>
<rect x="439.60" y="638.74" width="3.22" height="3.22"/>
<rect x="446.04" y="638.74" width="3.22" height="3.22"/>
<rect x="452.48" y="638.74" width="3.22" height="3.22"/>
<rect x="442.82" y="635.52" width="3.22" height="3.22"/>
<rect x="449.26" y="635.52" width="3.22" height="3.22"/>
<rect x="455.70" y="635.52" width="2.50" height="3.22"/>
<rect x="439.60" y="632.30" width="3.22" height="3.22"/>
<rect x="446.04" y="632.30" width="3.22" height="3.22"/>
<rect x="452.48" y="632.30" width="3.22" height="3.22"/>
<rect x="442.82" y="629.08" width="3.22" height="3.22"/>
<rect x="449.26" y="629.08" width="3.22" height="3.22"/>
<rect x="455.70" y="629.08" width="2.50" height="3.22"/>
<rect x="439.60" y="625.86" width="3.22" height="3.22"/>
<rect x="446.04" y="625.86" width="3.22" height="3.22"/>
<rect x="452.48" y="625.86" width="3.22" height="3.22"/>
<rect x="442.82" y="622.64" width="3.22" height="3.22"/>
<rect x="449.26" y="622.64" width="3.22" height="3.22"/>
<rect x="455.70" y="622.64" width="2.50" height="3.22"/>
<rect x="439.60" y="619.42" width="3.22" height="3.22"/>
<rect x="446.04" y="619.42" width="3.22" height="3.22"/>
<rect x="452.48" y="619.42" width="3.22" height="3.22"/>
<rect x="442.82" y="616.20" width="3.22" height="3.22"/>
<rect x="449.26" y="616.20" width="3.22" height="3.22"/>
<rect x="455.70" y="616.20" width="2.50" height="3.22"/>
<rect x="439.60" y="612.98" width="3.22" height="3.22"/>
<rect x="446.04" y="612.98" width="3.22" height="3.22"/>
<rect x="452.48" y="612.98" width="3.22" height="3.22"/>
<rect x="442.82" y="609.76" width="3.22" height="3.22"/>
<rect x="449.26" y="609.76" width="3.22" height="3.22"/>
<rect x="455.70" y="609.76" width="2.50" height="3.22"/>
<rect x="439.60" y="606.54" width="3.22" height="3.22"/>
<rect x="446.04" y="606.54" width="3.22" height="3.22"/>
<rect x="452.48" y="606.54" width="3.22" height="3.22"/>
<rect x="442.82" y="603.32" width="3.22" height="3.22"/>
<rect x="449.26" y="603.32" width="3.22" height="3.22"/>
<rect x="455.70" y="603.32" width="2.50" height="3.22"/>
<rect x="439.60" y="600.10" width="3.22" height="3.22"/>
<rect x="446.04" y="600.10" width="3.22" height="3.22"/>
<rect x="452.48" y="600.10" width="3.22" height="3.22"/>
<rect x="442.82" y="596.88" width="3.22" height="3.22"/>
<rect x="449.26" y="596.88" width="3.22" height="3.22"/>
<rect x="455.70" y="596.88" width="2.50" height="3.22"/>
<rect x="439.60" y="593.66" width="3.22" height="3.22"/>
<rect x="446.04" y="593.66" width="3.22" height="3.22"/>
<rect x="452.48" y="593.66" width="3.22" height="3.22"/>
<rect x="442.82" y="590.44" width="3.22" height="3.22"/>
<rect x="449.26" y="590.44" width="3.22" height="3.22"/>
<rect x="455.70" y="590.44" width="2.50" height="3.22"/>
<rect x="439.60" y="587.22" width="3.22" height="3.22"/>
<rect x="446.04" y="587.22" width="3.22" height="3.22"/>
<rect x="452.48" y="587.22" width="3.22" height="3.22"/>
<rect x="442.82" y="584.00" width="3.22" height="3.22"/>
<rect x="449.26" y="584.00" width="3.22" height="3.22"/>
<rect x="455.70" y="584.00" width="2.50" height="3.22"/>
<rect x="439.60" y="580.78" width="3.22" height="3.22"/>
<rect x="446.04" y="580.78" width="3.22" height="3.22"/>
<rect x="452.48" y="580.78" width="3.22" height="3.22"/>
<rect x="442.82" y="577.56" width="3.22" height="3.22"/>
<rect x="449.26" y="577.56" width="3.22" height="3.22"/>
<rect x="455.70" y="577.56" width="2.50" height="3.22"/>
<rect x="439.60" y="574.34" width="3.22" height="3.22"/>
<rect x="446.04" y="574.34" width="3.22" height="3.22"/>
<rect x="452.48" y="574.34" width="3.22" height="3.22"/>
<rect x="442.82" y="571.12" width="3.22" height="3.22"/>
<rect x="449.26" y="571.12" width="3.22" height="3.22"/>
<rect x="455.70" y="571.12" width="2.50" height="3.22"/>
<rect x="439.60" y="567.90" width="3.22" height="3.22"/>
<rect x="446.04" y="567.90" width="3.22" height="3.22"/>
<rect x="452.48" y="567.90" width="3.22" height="3.22"/>
<rect x="442.82" y="564.68" width="3.22" height="3.22"/>
<rect x="449.26" y="564.68" width="3.22" height="3.22"/>
<rect x="455.70" y="564.68" width="2.50" height="3.22"/>
<rect x="439.60" y="561.46" width="3.22" height="3.22"/>
<rect x="446.04" y="561.46" width="3.22" height="3.22"/>
<rect x="452.48" y="561.46" width="3.22" height="3.22"/>
<rect x="442.82" y="558.24" width="3.22" height="3.22"/>
<rect x="449.26" y="558.24" width="3.22" height="3.22"/>
<rect x="455.70" y="558.24" width="2.50" height="3.22"/>
<rect x="439.60" y="555.02" width="3.22" height="3.22"/>
<rect x="446.04" y="555.02" width="3.22" height="3.22"/>
<rect x="452.48" y="555.02" width="3.22" height="3.22"/>
<rect x="442.82" y="551.80" width="3.22" height="3.22"/>
<rect x="449.26" y="551.80" width="3.22" height="3.22"/>
<rect x="455.70" y="551.80" width="2.50" height="3.22"/>
<rect x="439.60" y="548.58" width="3.22" height="3.22"/>
<rect x="446.04" y="548.58" width="3.22" height="3.22"/>
<rect x="452.48" y="548.58" width="3.22" height="3.22"/>
<rect x="442.82" y="545.36" width="3.22" height="3.22"/>
<rect x="449.26" y="545.36" width="3.22" height="3.22"/>
<rect x="455.70" y="545.36" width="2.50" height="3.22"/>
<rect x="439.60" y="542.14" width="3.22" height="3.22"/>
<rect x="446.04" y="542.14" width="3.22" height="3.22"/>
<rect x="452.48" y="542.14" width="3.22" height="3.22"/>
<rect x="442.82" y="538.92" width="3.22" height="3.22"/>
<rect x="449.26" y="538.92" width="3.22" height="3.22"/>
<rect x="455.70" y="538.92" width="2.50" height="3.22"/>
<rect x="439.60" y="535.70" width="3.22" height="3.22"/>
<rect x="446.04" y="535.70" width="3.22" height="3.22"/>
<rect x="452.48" y="535.70" width="3.22" height="3.22"/>
<rect x="442.82" y="532.48" width="3.22" height="3.22"/>
<rect x="449.26" y="532.48" width="3.22" height="3.22"/>
<rect x="455.70" y="532.48" width="2.50" height="3.22"/>
<rect x="439.60" y="529.26" width="3.22" height="3.22"/>
<rect x="446.04" y="529.26" width="3.22" height="3.22"/>
<rect x="452.48" y="529.26" width="3.22" height="3.22"/>
<rect x="442.82" y="526.04" width="3.22" height="3.22"/>
<rect x="449.26" y="526.04" width="3.22" height="3.22"/>
<rect x="455.70" y="526.04" width="2.50" height="3.22"/>
<rect x="439.60" y="522.82" width="3.22" height="3.22"/>
<rect x="446.04" y="522.82" width="3.22" height="3.22"/>
<rect x="452.48" y="522.82" width="3.22" height="3.22"/>
<rect x="442.82" y="522.20" width="3.22" height="0.62"/>
<rect x="449.26" y="522.20" width="3.22" height="0.62"/>
<rect x="455.70" y="522.20" width="2.50" height="0.62"/>
</g>
<rect x="439.60" y="522.20" width="18.60" height="126.20" fill="none" stroke="#000" stroke-width="1.3"/>
<line x1="475.90000000000003" y1="555.8" x2="475.90000000000003" y2="557.6999999999999" stroke="#000" stroke-width="1.7"/>
<line x1="471.40000000000003" y1="555.8" x2="480.40000000000003" y2="555.8" stroke="#000" stroke-width="1.7"/>
<rect x="466.60" y="557.70" width="18.60" height="90.70" fill="#6e6e6e" stroke="#000" stroke-width="1.3"/>
<line x1="61.1" y1="653.7" x2="161.7" y2="653.7" stroke="#2a2a2a" stroke-width="1.2"/>
<text class="sr" x="110.49999999999999" y="675.9" font-size="17.4" text-anchor="middle" stroke="#000" stroke-width="0.6">CT</text>
<line x1="169.1" y1="653.7" x2="269.7" y2="653.7" stroke="#2a2a2a" stroke-width="1.2"/>
<text class="sr" x="218.49999999999997" y="675.9" font-size="17.4" text-anchor="middle" stroke="#000" stroke-width="0.6">PD</text>
<line x1="277.1" y1="653.7" x2="377.70000000000005" y2="653.7" stroke="#2a2a2a" stroke-width="1.2"/>
<text class="sr" x="326.50000000000006" y="675.9" font-size="17.4" text-anchor="middle" stroke="#000" stroke-width="0.6">DMAG</text>
<line x1="385.1" y1="653.7" x2="485.70000000000005" y2="653.7" stroke="#2a2a2a" stroke-width="1.2"/>
<text class="sr" x="434.50000000000006" y="675.9" font-size="17.4" text-anchor="middle" stroke="#000" stroke-width="0.6">PD+DMAG</text>
<rect x="83.60" y="504.00" width="29.80" height="7.40" fill="#fff" stroke="#000" stroke-width="1.2"/>
<text class="ss" x="119.3" y="510.9" font-size="13" stroke="#000" stroke-width="0.7">WT</text>
<rect x="83.60" y="524.40" width="29.80" height="7.30" fill="#fff" stroke="#000" stroke-width="1.2"/>
<rect x="86.5" y="524.7" width="2.4" height="1.2" fill="#111"/>
<rect x="93.0" y="524.7" width="2.4" height="1.2" fill="#111"/>
<rect x="99.5" y="524.7" width="2.4" height="1.2" fill="#111"/>
<rect x="106.0" y="524.7" width="2.4" height="1.2" fill="#111"/>
<rect x="112.5" y="524.7" width="2.4" height="1.2" fill="#111"/>
<text class="ss" x="119.3" y="530.5" font-size="13" stroke="#000" stroke-width="0.7">255</text>
<g shape-rendering="crispEdges" fill="#111">
<rect x="83.60" y="545.88" width="3.22" height="3.22"/>
<rect x="90.04" y="545.88" width="3.22" height="3.22"/>
<rect x="96.48" y="545.88" width="3.22" height="3.22"/>
<rect x="102.92" y="545.88" width="3.22" height="3.22"/>
<rect x="109.36" y="545.88" width="3.22" height="3.22"/>
<rect x="86.82" y="542.70" width="3.22" height="3.18"/>
<rect x="93.26" y="542.70" width="3.22" height="3.18"/>
<rect x="99.70" y="542.70" width="3.22" height="3.18"/>
<rect x="106.14" y="542.70" width="3.22" height="3.18"/>
<rect x="112.58" y="542.70" width="0.82" height="3.18"/>
</g>
<rect x="83.60" y="542.70" width="29.80" height="6.40" fill="none" stroke="#000" stroke-width="1.2"/>
<text class="ss" x="119.3" y="550" font-size="13" stroke="#000" stroke-width="0.7">315</text>
<rect x="83.60" y="561.60" width="29.80" height="7.80" fill="#6e6e6e" stroke="#000" stroke-width="1.2"/>
<text class="ss" x="119.3" y="569.2" font-size="13" stroke="#000" stroke-width="0.7">351</text>
<line x1="246.5" y1="468.7" x2="246.5" y2="526.2" stroke="#000" stroke-width="1.7"/>
<line x1="245.7" y1="525.4" x2="328.5" y2="525.4" stroke="#000" stroke-width="1.7"/>
<line x1="243" y1="469.3" x2="246.5" y2="469.3" stroke="#000" stroke-width="1.3"/>
<line x1="328" y1="525.4" x2="328" y2="528.5" stroke="#000" stroke-width="1.3"/>
<text class="ss" x="242.2" y="475.4" font-size="13.6" text-anchor="end" stroke="#000" stroke-width="0.6">1</text>
<text class="ss" x="247" y="540.8" font-size="14.5" text-anchor="end" stroke="#000" stroke-width="0.6">0</text>
<text class="ss" x="329.5" y="543.5" font-size="14.5" text-anchor="middle" stroke="#000" stroke-width="0.6">1</text>
<text class="sr" x="232.8" y="498.3" font-size="20" text-anchor="middle" stroke="#000" stroke-width="0.6" transform="rotate(-90 232.8 498.3)">CI</text>
<text class="sr" x="277.3" y="494.5" font-size="15" stroke="#000" stroke-width="0.5">BaF3/315</text>
<path d="M246.9,470 C247,490 247,500 247.6,504 C248.4,508 250,509.6 252,510.3 C257,511.2 262,511.3 267,511.7 C275,512.3 281,513 287,513.7 C300,515 315,515.5 323,516.5 C326,517 327.7,518 327.7,519.8" fill="none" stroke="#000" stroke-width="1.5"/>
<rect x="249.9" y="509.7" width="3.4" height="3.2" fill="#000"/>
<rect x="265.3" y="509.0" width="3.4" height="3.2" fill="#000"/>
<rect x="285.5" y="512.6999999999999" width="3.4" height="3.2" fill="#000"/>
<line x1="59.5" y1="743" x2="59.5" y2="879.4499999999999" stroke="#000" stroke-width="1.35"/>
<line x1="58.85" y1="878.8" x2="311" y2="878.8" stroke="#000" stroke-width="1.35"/>
<line x1="55.3" y1="878.8" x2="59.5" y2="878.8" stroke="#000" stroke-width="1.35"/>
<text class="ss" x="52" y="884.0999999999999" font-size="15.4" text-anchor="end" stroke="#000" stroke-width="0.6">0</text>
<line x1="55.3" y1="845.1999999999999" x2="59.5" y2="845.1999999999999" stroke="#000" stroke-width="1.35"/>
<text class="ss" x="52" y="850.4999999999999" font-size="15.4" text-anchor="end" stroke="#000" stroke-width="0.6">25</text>
<line x1="55.3" y1="811.5999999999999" x2="59.5" y2="811.5999999999999" stroke="#000" stroke-width="1.35"/>
<text class="ss" x="52" y="816.8999999999999" font-size="15.4" text-anchor="end" stroke="#000" stroke-width="0.6">50</text>
<line x1="55.3" y1="778.0" x2="59.5" y2="778.0" stroke="#000" stroke-width="1.35"/>
<text class="ss" x="52" y="783.3" font-size="15.4" text-anchor="end" stroke="#000" stroke-width="0.6">75</text>
<line x1="55.3" y1="744.4" x2="59.5" y2="744.4" stroke="#000" stroke-width="1.35"/>
<text class="ss" x="52" y="749.6999999999999" font-size="15.4" text-anchor="end" stroke="#000" stroke-width="0.6">100</text>
<line x1="72.3" y1="851" x2="72.3" y2="854" stroke="#000" stroke-width="1.6"/>
<line x1="68.3" y1="851" x2="76.3" y2="851" stroke="#000" stroke-width="1.6"/>
<rect x="65.00" y="854.00" width="14.60" height="24.80" fill="#fff" stroke="#000" stroke-width="1.3"/>
<line x1="92.5" y1="853.8" x2="92.5" y2="856.3" stroke="#000" stroke-width="1.6"/>
<line x1="88.5" y1="853.8" x2="96.5" y2="853.8" stroke="#000" stroke-width="1.6"/>
<rect x="85.20" y="856.30" width="14.60" height="22.50" fill="#000" stroke="#000" stroke-width="1.3"/>
<rect x="126.00" y="845.00" width="14.60" height="33.80" fill="#000" stroke="#000" stroke-width="1.3"/>
<rect x="146.00" y="846.00" width="14.60" height="32.80" fill="#fff" stroke="#000" stroke-width="1.3"/>
<rect x="188.00" y="835.50" width="14.60" height="43.30" fill="#fff" stroke="#000" stroke-width="1.3"/>
<line x1="214.70000000000002" y1="829.5" x2="214.70000000000002" y2="833.5" stroke="#000" stroke-width="1.6"/>
<line x1="210.70000000000002" y1="829.5" x2="218.70000000000002" y2="829.5" stroke="#000" stroke-width="1.6"/>
<rect x="207.40" y="833.50" width="14.60" height="45.30" fill="#000" stroke="#000" stroke-width="1.3"/>
<line x1="255.9" y1="781" x2="255.9" y2="785" stroke="#000" stroke-width="1.6"/>
<line x1="251.9" y1="781" x2="259.9" y2="781" stroke="#000" stroke-width="1.6"/>
<rect x="248.60" y="785.00" width="14.60" height="93.80" fill="#fff" stroke="#000" stroke-width="1.3"/>
<line x1="275.7" y1="757.5" x2="275.7" y2="763.5" stroke="#000" stroke-width="1.6"/>
<line x1="271.7" y1="757.5" x2="279.7" y2="757.5" stroke="#000" stroke-width="1.6"/>
<rect x="268.40" y="763.50" width="14.60" height="115.30" fill="#000" stroke="#000" stroke-width="1.3"/>
<line x1="296.3" y1="845.6" x2="296.3" y2="849.5" stroke="#000" stroke-width="1.6"/>
<line x1="292.3" y1="845.6" x2="300.3" y2="845.6" stroke="#000" stroke-width="1.6"/>
<rect x="289.00" y="849.50" width="14.60" height="29.30" fill="#fff" stroke="#000" stroke-width="1.3"/>
<rect x="289.0" y="875.9" width="1.7" height="1.7" fill="#111"/>
<rect x="295.5" y="875.9" width="1.7" height="1.7" fill="#111"/>
<rect x="302.0" y="875.9" width="1.7" height="1.7" fill="#111"/>
<rect x="289.0" y="869.4" width="1.7" height="1.7" fill="#111"/>
<rect x="295.5" y="869.4" width="1.7" height="1.7" fill="#111"/>
<rect x="302.0" y="869.4" width="1.7" height="1.7" fill="#111"/>
<rect x="289.0" y="862.9" width="1.7" height="1.7" fill="#111"/>
<rect x="295.5" y="862.9" width="1.7" height="1.7" fill="#111"/>
<rect x="302.0" y="862.9" width="1.7" height="1.7" fill="#111"/>
<rect x="289.0" y="856.3" width="1.7" height="1.7" fill="#111"/>
<rect x="295.5" y="856.3" width="1.7" height="1.7" fill="#111"/>
<rect x="302.0" y="856.3" width="1.7" height="1.7" fill="#111"/>
<text class="sr" x="99.5" y="890" font-size="18" text-anchor="end" stroke="#000" stroke-width="0.7" transform="rotate(-70 99.5 890)">Control</text>
<text class="sr" x="143.2" y="891.7" font-size="16.4" text-anchor="end" stroke="#000" stroke-width="0.7" transform="rotate(-66 143.2 891.7)">PD</text>
<text class="sr" x="219" y="890.2" font-size="17.4" text-anchor="end" stroke="#000" stroke-width="0.7" transform="rotate(-70 219 890.2)">DMAG</text>
<text class="sr" x="286.6" y="890.6" font-size="18" text-anchor="end" stroke="#000" stroke-width="0.7" transform="rotate(-69 286.6 890.6)">PD+DM</text>
<rect x="102.30" y="715.20" width="32.00" height="8.40" fill="#fff" stroke="#000" stroke-width="1.2"/>
<rect x="102.30" y="730.50" width="32.00" height="9.20" fill="#000" stroke="#000" stroke-width="1.2"/>
<rect x="102.30" y="746.30" width="32.00" height="8.20" fill="#fff" stroke="#000" stroke-width="1.2"/>
<rect x="105.5" y="747.2" width="2.6" height="1.5" fill="#111"/>
<rect x="112.0" y="747.2" width="2.6" height="1.5" fill="#111"/>
<rect x="118.5" y="747.2" width="2.6" height="1.5" fill="#111"/>
<rect x="125.0" y="747.2" width="2.6" height="1.5" fill="#111"/>
<rect x="131.5" y="747.2" width="2.6" height="1.5" fill="#111"/>
<text class="ss" x="141" y="724.2" font-size="14.9" stroke="#000" stroke-width="0.65">Pt # 1</text>
<text class="ss" x="141" y="739.6" font-size="14.9" stroke="#000" stroke-width="0.65">Pt #2</text>
<text class="ss" x="141" y="755.4" font-size="14.9" stroke="#000" stroke-width="0.65">Normal CD34+</text>
</svg></body></html>
